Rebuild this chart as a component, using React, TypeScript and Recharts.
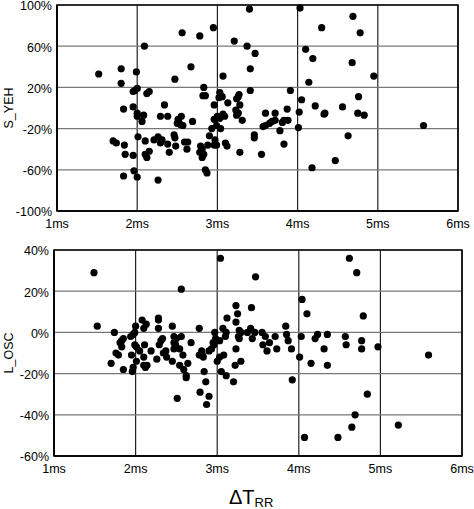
import React from 'react';
import {
  ScatterChart, Scatter, XAxis, YAxis, CartesianGrid, ReferenceArea,
} from 'recharts';

// [ΔT_RR in ms, value in %]
const syehPoints: [number, number][] = [
  [1.52, 33], [1.80, 38], [1.80, 24], [1.99, 35], [2.09, 60], [2.56, 73], [2.78, 70], [2.95, 78],
  [3.21, 65], [3.37, 60], [3.40, 96], [2.67, 40], [3.07, 31], [2.47, 28],
  [1.95, 16], [1.97, 17], [2.0, 19], [2.12, 14], [2.15, 16], [2.83, 20], [2.82, 12], [2.85, 12],
  [3.03, 15], [3.02, 10], [3.06, 11], [3.13, 5], [3.24, 9], [3.27, 13], [3.26, 11], [3.41, 17],
  [1.83, -1], [1.95, 1], [2.0, -5], [2.0, -8], [2.08, -7], [2.06, -13], [2.34, 3], [2.29, -8],
  [2.38, -8], [2.96, 3], [3.28, 3], [3.23, -2], [3.26, -5], [3.24, -7],
  [2.55, -8], [2.51, -11], [2.52, -14], [2.54, -16], [2.50, -15], [2.57, -17], [2.69, -13],
  [2.96, -11], [3.0, -8], [3.07, -6], [3.09, -8], [3.03, -10], [3.31, -12], [2.93, -20], [2.99, -17], [3.04, -20],
  [2.01, -28], [1.70, -32], [1.74, -34], [1.84, -36], [2.10, -32], [2.21, -31], [2.26, -28], [2.31, -31],
  [2.29, -34], [2.38, -35], [2.46, -26], [2.47, -29], [2.48, -37], [2.40, -43], [2.59, -33], [2.63, -33],
  [2.62, -40], [2.79, -37], [2.81, -40], [2.78, -43], [2.83, -45], [2.81, -48], [2.88, -36], [2.96, -36],
  [2.99, -36], [2.90, -27], [2.97, -31], [3.10, -34], [3.12, -37], [3.28, -43], [3.46, -26], [3.46, -29],
  [1.85, -45], [1.95, -46], [2.10, -45], [2.12, -48], [2.15, -42], [1.96, -61], [2.0, -67], [1.83, -66],
  [2.26, -70], [2.85, -60], [2.87, -63],
  [4.03, 97], [4.69, 89], [4.30, 78], [4.78, 73], [3.47, 53], [4.10, 57], [4.19, 48], [4.68, 44],
  [3.41, 38], [4.95, 31], [4.14, 25], [3.91, 17], [4.05, 8], [4.76, 11], [4.22, 2], [4.56, 1],
  [3.87, -1], [3.60, -5], [3.72, -5], [4.02, -4], [4.33, -6], [4.34, -5], [4.75, -5], [4.83, -7],
  [3.72, -12], [3.65, -15], [3.60, -17], [3.57, -18], [3.81, -14], [3.83, -12], [3.88, -12], [3.68, -13],
  [3.78, -22], [4.01, -19], [5.57, -17], [4.63, -27], [3.83, -35], [3.55, -45], [4.47, -51], [4.18, -58],
];

const loscPoints: [number, number][] = [
  [1.49, 29], [1.53, 3], [1.74, 0], [1.70, -15], [1.76, -10], [1.79, -11], [1.81, -5], [1.83, -4],
  [1.85, -3], [1.83, -7], [1.85, -18],
  [1.94, -2], [1.97, -1], [2.0, 3], [1.99, 0], [1.99, -6], [2.01, -7], [1.95, -11], [1.97, -17],
  [1.96, -19], [2.01, -14], [2.05, -9],
  [2.08, 6], [2.13, 4], [2.10, 2], [2.11, -6], [2.10, -12], [2.10, -16], [2.12, -17], [2.14, -16],
  [2.19, -9], [2.26, -13], [2.28, 7], [2.28, 6], [2.28, 2], [2.29, -6], [2.31, -4], [2.33, -3],
  [2.34, -10], [2.37, -9], [2.38, -12],
  [2.45, 3], [2.45, -14], [2.47, -2], [2.47, -5], [2.47, -8], [2.49, -6], [2.50, -3], [2.54, -8],
  [2.56, -2], [2.56, 21], [2.51, -32], [2.54, -16], [2.58, -11], [2.59, -18], [2.62, -21], [2.62, -22],
  [2.64, -15], [2.68, -5],
  [2.78, 2], [2.78, -11], [2.81, -9], [2.82, -11], [2.83, -12], [2.84, -19], [2.79, -29], [2.86, -24],
  [2.87, -35], [2.90, -31], [2.90, -9], [2.93, -8], [2.95, -5], [2.96, -6], [2.97, 0], [2.98, -3],
  [3.0, -14], [3.04, 36], [3.03, -12], [3.03, -4], [3.05, -19], [3.07, 2], [3.08, -11], [3.10, -2],
  [3.11, 0], [3.11, -21], [3.12, 7], [3.20, -24], [3.22, -16], [3.23, -8], [3.23, 13], [3.23, 5],
  [3.25, 9], [3.26, -2], [3.27, -3], [3.29, -14], [3.27, 1], [3.29, 0],
  [4.62, 36], [4.71, 29], [3.47, 27], [4.04, 16], [4.10, 9], [4.79, 8], [3.42, 12], [3.84, 3],
  [3.37, 0], [3.41, 2], [3.46, 0], [3.43, -3], [3.55, 0], [3.59, -2], [3.64, -5], [3.61, -9],
  [3.56, -6], [3.71, -2], [3.73, -8], [3.85, -1], [3.87, -4], [3.91, -8], [4.03, -2], [4.01, -12],
  [4.15, -15], [4.20, -3], [4.23, -1], [4.35, -1], [4.31, -8], [4.35, -16], [4.57, -2], [4.58, -6],
  [4.77, -4], [4.77, -8], [4.97, -7], [5.59, -11], [3.92, -23], [4.84, -30], [4.69, -40], [4.65, -46],
  [5.22, -45], [4.07, -51], [4.48, -51],
];

const msTicks = [1, 2, 3, 4, 5, 6];
const syehTicks = [-100, -60, -20, 20, 60, 100];
const loscTicks = [-60, -40, -20, 0, 20, 40];

const font = '"Liberation Sans", Arial, sans-serif';
const tickStyle = { fontSize: 12.5, fill: '#000', fontFamily: font };

const Dot = (props: any) => <circle cx={props.cx} cy={props.cy} r={3.6} fill="#000" />;

// y tick labels nudged down 1px so the top one stays inside the page
const YTick = (props: any) => {
  const { x, y, payload } = props;
  return (
    <text x={x} y={y + 1} dy="0.355em" textAnchor="end" fontSize={12.5} fill="#000" fontFamily={font}>
      {`${payload.value}%`}
    </text>
  );
};

const AxisTitle = () => (
  <text x={229} y={259} fontFamily={font} fill="#000">
    <tspan fontSize={20}>ΔT</tspan>
    <tspan fontSize={13} dy={3}>RR</tspan>
  </text>
);

function Panel({ points, ticks, label, yWidth, right, bottom, height, title }: {
  points: [number, number][]; ticks: number[]; label: string; yWidth: number;
  right: number; bottom: number; height: number; title?: boolean;
}) {
  const data = points.map(([ms, pct]) => ({ ms, pct }));
  const lo = ticks[0];
  const hi = ticks[ticks.length - 1];
  return (
    <ScatterChart width={474} height={height} margin={{ top: 5, right, bottom, left: 0 }}>
      <CartesianGrid horizontal={false} stroke="#222" strokeWidth={1.2} />
      <CartesianGrid vertical={false} stroke="#777" strokeWidth={1.2} />
      <XAxis
        type="number" dataKey="ms" domain={[1, 6]} ticks={msTicks} interval={0}
        tickFormatter={(v: number) => `${v}ms`} tick={tickStyle} tickLine={false}
        axisLine={{ stroke: '#000', strokeWidth: 1.5 }} height={25}
        label={title ? { content: () => <AxisTitle /> } : undefined}
      />
      <YAxis
        type="number" dataKey="pct" domain={[lo, hi]} ticks={ticks} interval={0}
        tick={<YTick />} tickLine={false} tickSize={5} tickMargin={0}
        axisLine={{ stroke: '#000', strokeWidth: 1.5 }} width={yWidth}
        label={{
          value: label, angle: -90, position: 'insideLeft', offset: 9,
          style: { textAnchor: 'middle', fontSize: 12.5, fill: '#000', fontFamily: font },
        }}
      />
      <ReferenceArea x1={1} x2={6} y1={lo} y2={hi} fill="none" stroke="#000" strokeWidth={1.5} fillOpacity={0} />
      <Scatter data={data} shape={Dot} isAnimationActive={false} />
    </ScatterChart>
  );
}

export default function App() {
  return (
    <div style={{ position: 'absolute', left: 0, top: 0, width: 474, height: 509, background: '#fff' }}>
      <div style={{ position: 'absolute', left: 0, top: 0 }}>
        <Panel points={syehPoints} ticks={syehTicks} label="S_YEH" yWidth={57} right={16} bottom={4} height={240} />
      </div>
      <div style={{ position: 'absolute', left: 0, top: 245 }}>
        <Panel points={loscPoints} ticks={loscTicks} label="L_OSC" yWidth={54} right={12} bottom={28} height={264} title />
      </div>
    </div>
  );
}
